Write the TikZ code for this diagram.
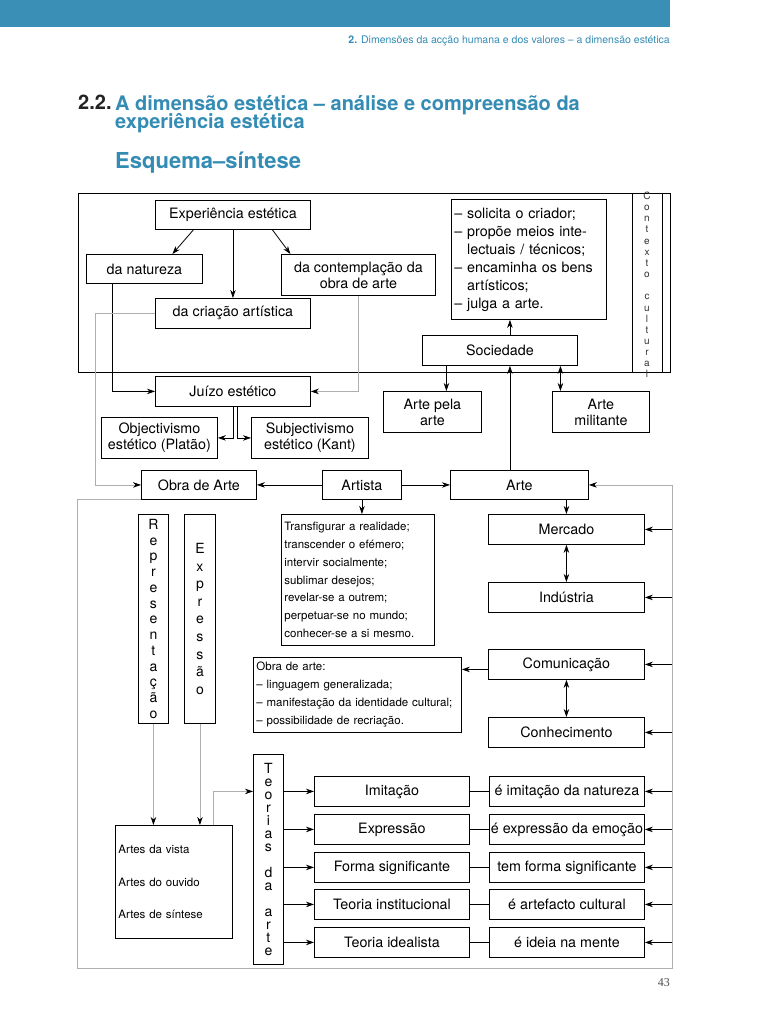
\documentclass[tikz,border=0pt]{standalone}
\usepackage{fontspec}
\setmainfont{TeX Gyre Heros}
\newfontfamily\numfont{Liberation Serif}
\usetikzlibrary{arrows.meta,calc}
\definecolor{bandblue}{RGB}{58,143,182}
\definecolor{titleblue}{RGB}{52,140,180}
\definecolor{titledark}{RGB}{35,35,35}
\definecolor{lgray}{RGB}{175,175,175}
\newcommand\tightls{\lineskiplimit=-30pt\relax\lineskip=0pt\relax}
\newcommand\bxnode[7][]{%
  \pgfmathsetmacro\bxw{#5-#3}\pgfmathsetmacro\bxh{#6-#4}%
  \node[bxs,minimum width=\bxw pt,minimum height=\bxh pt,anchor=north west,#1] (#2) at (#3,#4) {#7};}
\begin{document}
\begin{tikzpicture}[x=1pt,y=-1pt,
  bxs/.style={draw=black,line width=0.85pt,inner sep=0pt,align=center,font=\fontsize{14.3}{16}\selectfont},
  lst/.style={align=left,inner xsep=3pt,inner ysep=0pt},
  arr/.style={line width=0.8pt,-{Stealth[length=8pt,width=5.5pt,inset=2.5pt]}},
  darr/.style={line width=0.8pt,{Stealth[length=8pt,width=5.5pt,inset=2.5pt]}-{Stealth[length=8pt,width=5.5pt,inset=2.5pt]}},
  garr/.style={draw=lgray,line width=0.8pt,-{Stealth[length=8pt,width=5.5pt,inset=2.5pt,color=black]}},
  gline/.style={draw=lgray,line width=0.8pt},
  frame/.style={draw=black,line width=0.9pt},
  ttl/.style={inner sep=0pt,text=titleblue,font=\fontsize{20}{18}\selectfont\bfseries\tightls}
]
\useasboundingbox (0,0) rectangle (768,1024);
\fill[white] (0,0) rectangle (768,1024);
\fill[bandblue] (0,0) rectangle (670,27);

% header and titles
\node[anchor=base east,inner sep=0pt,text=titleblue,font=\fontsize{10.5}{12}\selectfont] (hdr) at (670,44)
  {\textbf{2.} Dimensões da acção humana e dos valores – a dimensão estética};
\node[ttl,anchor=base west,text=titledark] (tnum) at (78,110) {2.2.};
\node[ttl,anchor=north west,align=left] (t1) at (115,95.3) {A dimensão estética – análise e compreensão da\\experiência estética};
\node[ttl,anchor=base west,font=\fontsize{22}{24}\selectfont\bfseries] (esq) at (115,168.5) {Esquema–síntese};

% upper frame
\draw[frame] (78,193) rectangle (670,372);
\draw[frame] (632,193) -- (632,372) (662,193) -- (662,372);
\node[align=center,inner sep=0pt,text=black!80,font=\fontsize{10}{11.15}\selectfont\tightls] (ctx) at (647,285)
  {C\\o\\n\\t\\e\\x\\t\\o\\[11.15pt]c\\u\\l\\t\\u\\r\\a\\l};

% boxes
\bxnode{exp}{155}{200}{310}{229}{Experiência estética}
\bxnode{nat}{86}{254}{202}{283}{da natureza}
\bxnode{cont}{281}{254}{435}{295}{da contemplação da\\obra de arte}
\bxnode{cria}{155}{298}{310}{328}{da criação artística}
\bxnode[lst,text width=149pt,font=\fontsize{14.3}{18}\selectfont]{sol}{451}{199}{606}{319}%
  {– solicita o criador;\\– propõe meios inte-\\\phantom{– }lectuais / técnicos;\\– encaminha os bens\\\phantom{– }artísticos;\\– julga a arte.}
\bxnode{soc}{422}{335}{577}{365}{Sociedade}
\bxnode{juizo}{155}{376}{310}{406}{Juízo estético}
\bxnode{obj}{101}{417}{217}{458}{Objectivismo\\estético (Platão)}
\bxnode{subj}{251}{417}{368}{458}{Subjectivismo\\estético (Kant)}
\bxnode{apa}{383}{391}{481}{432}{Arte pela\\arte}
\bxnode{mil}{552}{391}{649}{432}{Arte\\militante}
\bxnode{obra}{141}{470}{256}{499}{Obra de Arte}
\bxnode{artista}{322}{470}{401}{499}{Artista}
\bxnode{arte}{450}{470}{588}{499}{Arte}
\bxnode[lst,text width=147pt,font=\fontsize{11.5}{17.7}\selectfont]{transf}{281}{514}{434}{645}%
  {Transfigurar a realidade;\\transcender o efémero;\\intervir socialmente;\\sublimar desejos;\\revelar-se a outrem;\\perpetuar-se no mundo;\\conhecer-se a si mesmo.}
\bxnode{merc}{488}{514}{644}{544}{Mercado}
\bxnode{ind}{488}{582}{644}{612}{Indústria}
\bxnode{com}{488}{649}{644}{679}{Comunicação}
\bxnode{con}{488}{717}{644}{747}{Conhecimento}
\bxnode[lst,text width=202pt,font=\fontsize{11.5}{18}\selectfont]{obrab}{253}{657}{461}{732}%
  {Obra de arte:\\– linguagem generalizada;\\– manifestação da identidade cultural;\\– possibilidade de recriação.}
\bxnode[font=\fontsize{14}{15.75}\selectfont]{rep}{138}{514}{168}{723}{R\\e\\p\\r\\e\\s\\e\\n\\t\\a\\ç\\ã\\o}
\bxnode[font=\fontsize{14}{17.6}\selectfont]{expr}{184}{514}{215}{723}{E\\x\\p\\r\\e\\s\\s\\ã\\o}
\bxnode[lst,text width=111pt,font=\fontsize{11.5}{32.5}\selectfont]{artes}{115}{825}{232}{938}%
  {Artes da vista\\Artes do ouvido\\Artes de síntese}
\bxnode[font=\fontsize{14}{13}\selectfont]{teo}{253}{754}{283}{964}{T\\e\\o\\r\\i\\a\\s\\[13pt]d\\a\\[13pt]a\\r\\t\\e}
\bxnode{imit}{314}{776}{469}{806}{Imitação}
\bxnode{exa}{314}{814}{469}{844}{Expressão}
\bxnode{forma}{314}{852}{469}{882}{Forma significante}
\bxnode{inst}{314}{889}{469}{919}{Teoria institucional}
\bxnode{ideal}{314}{927}{469}{957}{Teoria idealista}
\bxnode{imitR}{489}{776}{644}{806}{é imitação da natureza}
\bxnode{exaR}{489}{814}{644}{844}{é expressão da emoção}
\bxnode{formaR}{489}{852}{644}{882}{tem forma significante}
\bxnode{instR}{489}{889}{644}{919}{é artefacto cultural}
\bxnode{idealR}{489}{927}{644}{957}{é ideia na mente}

% lower grey frame
\coordinate (frR) at (672,0);
\coordinate (frL) at (77,0);
\draw[gline] (obra.south west) -- (obra.south west -| frL) -- (77,968) -- (672,968) -- (arte.east -| frR);

% connectors upper part
\draw[arr] ([xshift=-39.5pt]exp.south) -- ([xshift=28pt]nat.north);
\draw[arr] ([xshift=39.5pt]exp.south) -- ([xshift=-68pt]cont.north);
\draw[arr] (exp.south) -- (cria.north);
\draw[arr] ([xshift=-32pt]nat.south) |- (juizo.west);
\draw[garr] (cont.south) |- (juizo.east);
\draw[garr] (cria.west) -- ++(-60,0) |- (obra.west);
\draw[arr] ([xshift=0.5pt]juizo.south) |- (obj.east);
\draw[arr] ([xshift=4.5pt]juizo.south) |- (subj.west);
\draw[arr] ([xshift=10pt]soc.north) -- ([xshift=10pt]soc.north |- sol.south);
\draw[arr] ([xshift=-9.5pt]arte.north) -- ([xshift=-9.5pt]arte.north |- soc.south);
\draw[arr] ([xshift=-53.5pt]soc.south) -- ([xshift=-53.5pt]soc.south |- apa.north);
\draw[darr] ([xshift=60.5pt]soc.south) -- ([xshift=60.5pt]soc.south |- mil.north);
\draw[arr] (artista.west) -- (obra.east);
\draw[arr] (artista.east) -- (arte.west);
\draw[arr] (artista.south) -- (artista.south |- transf.north);
\draw[arr] (arte.south -| merc.north) -- (merc.north);
\draw[garr] (arte.east -| frR) -- (arte.east);

% right column
\draw[gline] (arte.east -| frR) -- (con.east -| frR);
\foreach \n in {merc,ind,com,con}{\draw[arr] (\n.east -| frR) -- (\n.east);}
\draw[darr] (merc.south) -- (ind.north);
\draw[darr] (com.south) -- (con.north);
\draw[arr] ([yshift=-5pt]com.west) -- ([yshift=-5pt]com.west -| obrab.east);

% lower left
\draw[garr] (rep.south) -- (rep.south |- artes.north);
\draw[garr] (expr.south) -- (expr.south |- artes.north);
\draw[garr] ([xshift=39.5pt]artes.north) |- (teo.west |- imit.west);
\foreach \a/\b in {imit/imitR,exa/exaR,forma/formaR,inst/instR,ideal/idealR}{
  \draw[arr] (teo.east |- \a.west) -- (\a.west);
  \draw[line width=0.8pt] (\a.east) -- (\b.west);
  \draw[arr] (\b.east -| frR) -- (\b.east);
}

% page number
\node[anchor=base east,inner sep=0pt,text=black!70,font=\numfont\fontsize{12}{14}\selectfont] (pg) at (670,986) {43};
\end{tikzpicture}
\end{document}
